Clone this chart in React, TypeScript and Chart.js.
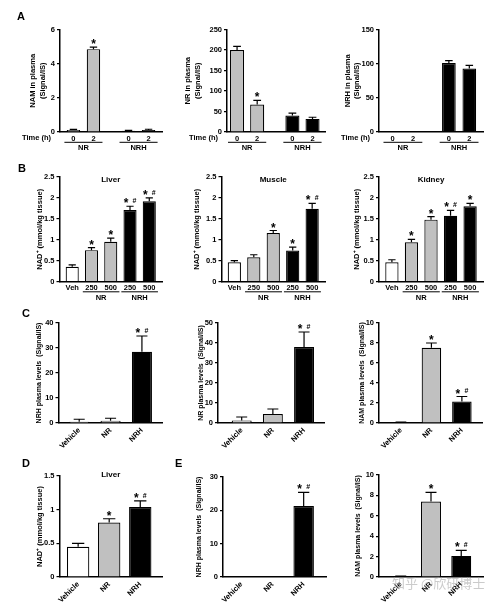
import React, { useEffect, useRef } from "react";
import { Chart, registerables } from "chart.js";
Chart.register(...registerables);

const FONT = "'Liberation Sans', Arial, sans-serif";
const WHITE = "#ffffff";
const GRAY = "#c0c0c0";
const BLACK = "#000000";

// ---------- data ----------
const timeTicks = ["0", "2", "0", "2"];
const doseTicks = ["Veh", "250", "500", "250", "500"];
const treatTicks = ["Vehicle", "NR", "NRH"];
const groupNames = ["NR", "NRH"];

const namPlasmaA = [0.12, 4.85, 0.08, 0.12];
const namPlasmaAErr = [0.03, 0.12, 0.02, 0.04];
const nrPlasmaA = [200, 67, 40, 32];
const nrPlasmaAErr = [9, 10, 6, 4];
const nrhPlasmaA = [0.3, 0.3, 101, 93];
const nrhPlasmaAErr = [0, 0, 3.5, 4.5];

const liverNAD = [0.35, 0.75, 0.95, 1.71, 1.92];
const liverNADErr = [0.05, 0.06, 0.09, 0.09, 0.08];
const muscleNAD = [0.46, 0.58, 1.16, 0.74, 1.74];
const muscleNADErr = [0.04, 0.06, 0.06, 0.08, 0.13];
const kidneyNAD = [0.46, 0.94, 1.48, 1.57, 1.8];
const kidneyNADErr = [0.06, 0.07, 0.07, 0.13, 0.07];

const nrhPlasmaC = [0.5, 0.9, 28.5];
const nrhPlasmaCErr = [1.0, 1.0, 6.3];
const nrPlasmaC = [1.3, 4.5, 38];
const nrPlasmaCErr = [1.7, 2.5, 7.5];
const namPlasmaC = [0.05, 7.53, 2.15];
const namPlasmaCErr = [0.03, 0.47, 0.5];

const liverNADD = [0.45, 0.81, 1.04];
const liverNADDErr = [0.05, 0.055, 0.09];
const nrhPlasmaE = [0.1, 0.1, 21.3];
const nrhPlasmaEErr = [0, 0, 4.1];
const namPlasmaE = [0.05, 7.4, 2.07];
const namPlasmaEErr = [0.03, 0.9, 0.55];

const marksA1 = ["", "*", "", ""];
const marksA2 = ["", "*", "", ""];
const marksA3 = ["", "", "", ""];
const marksLiver = ["", "*", "*", "*#", "*#"];
const marksMuscle = ["", "", "*", "*", "*#"];
const marksKidney = ["", "*", "*", "*#", "*"];
const marksC1 = ["", "", "*#"];
const marksC2 = ["", "", "*#"];
const marksC3 = ["", "*", "*#"];
const marksD = ["", "*", "*#"];
const marksE1 = ["", "", "*#"];
const marksE2 = ["", "*", "*#"];

const colorsTime = [GRAY, GRAY, BLACK, BLACK];
const colorsDose = [WHITE, GRAY, GRAY, BLACK, BLACK];
const colorsTreat = [WHITE, GRAY, BLACK];

const nadTitle = ["NAD\u207A (mmol/kg tissue)"];

// ---------- layout (bar slots along the x axis, in slot units) ----------
const slotsTime = [0, 1, 2.75, 3.75];
const slotsDose = [0, 1, 2, 3, 4];
const slotsTreat = [0, 1, 2];

type Group = { label: string; from: number; to: number };
type Cfg = {
  box: [number, number, number, number];
  plot: [number, number, number, number];
  labels: string[];
  slots: number[];
  margin: [number, number];
  values: number[];
  errors: number[];
  colors: string[];
  marks: string[];
  yMax: number;
  yStep: number;
  yTitle: string[];
  yTitleX: number[];
  yTitleSize: number;
  title?: string;
  titleY?: number;
  groups?: Group[];
  timeLabel?: boolean;
  rotate?: boolean;
  barPct: number;
};

const timeGroups: Group[] = [
  { label: groupNames[0], from: 0, to: 1 },
  { label: groupNames[1], from: 2, to: 3 },
];
const doseGroups: Group[] = [
  { label: groupNames[0], from: 1, to: 2 },
  { label: groupNames[1], from: 3, to: 4 },
];

const COL1: [number, number] = [0, 170];
const COL2: [number, number] = [170, 165];
const COL3: [number, number] = [335, 166];

const panels: Cfg[] = [
  // Row A
  {
    box: [COL1[0], 20, COL1[1], 135], plot: [60, 162, 29.5, 132],
    labels: timeTicks, slots: slotsTime, margin: [0.67, 0.67],
    values: namPlasmaA, errors: namPlasmaAErr, colors: colorsTime, marks: marksA1,
    yMax: 6, yStep: 2, yTitle: ["NAM in plasma", "(Signal/IS)"], yTitleX: [33, 43], yTitleSize: 7.5,
    groups: timeGroups, timeLabel: true, barPct: 0.67,
  },
  {
    box: [COL2[0], 20, COL2[1], 135], plot: [227, 325, 29.5, 132],
    labels: timeTicks, slots: slotsTime, margin: [0.5, 0.62],
    values: nrPlasmaA, errors: nrPlasmaAErr, colors: colorsTime, marks: marksA2,
    yMax: 250, yStep: 50, yTitle: ["NR in plasma", "(Signal/IS)"], yTitleX: [188, 198], yTitleSize: 7.5,
    groups: timeGroups, timeLabel: true, barPct: 0.7,
  },
  {
    box: [COL3[0], 20, COL3[1], 135], plot: [379, 483, 29.5, 132],
    labels: timeTicks, slots: slotsTime, margin: [0.67, 0.67],
    values: nrhPlasmaA, errors: nrhPlasmaAErr, colors: colorsTime, marks: marksA3,
    yMax: 150, yStep: 50, yTitle: ["NRH in plasma", "(Signal/IS)"], yTitleX: [348, 357], yTitleSize: 7.5,
    groups: timeGroups, timeLabel: true, barPct: 0.67,
  },
  // Row B
  {
    box: [COL1[0], 160, COL1[1], 143], plot: [59.5, 162, 177, 281.5],
    labels: doseTicks, slots: slotsDose, margin: [0.66, 0.66],
    values: liverNAD, errors: liverNADErr, colors: colorsDose, marks: marksLiver,
    yMax: 2.5, yStep: 0.5, yTitle: nadTitle, yTitleX: [40], yTitleSize: 7.5, title: "Liver", titleY: 179.5,
    groups: doseGroups, barPct: 0.68,
  },
  {
    box: [COL2[0], 160, COL2[1], 143], plot: [221.5, 325, 177, 281.5],
    labels: doseTicks, slots: slotsDose, margin: [0.66, 0.66],
    values: muscleNAD, errors: muscleNADErr, colors: colorsDose, marks: marksMuscle,
    yMax: 2.5, yStep: 0.5, yTitle: nadTitle, yTitleX: [197], yTitleSize: 7.5, title: "Muscle", titleY: 179.5,
    groups: doseGroups, barPct: 0.68,
  },
  {
    box: [COL3[0], 160, COL3[1], 143], plot: [379, 483, 177, 281.5],
    labels: doseTicks, slots: slotsDose, margin: [0.66, 0.66],
    values: kidneyNAD, errors: kidneyNADErr, colors: colorsDose, marks: marksKidney,
    yMax: 2.5, yStep: 0.5, yTitle: nadTitle, yTitleX: [357], yTitleSize: 7.5, title: "Kidney", titleY: 179.5,
    groups: doseGroups, barPct: 0.68,
  },
  // Row C
  {
    box: [COL1[0], 303, COL1[1], 149], plot: [58.5, 162, 323, 423],
    labels: treatTicks, slots: slotsTreat, margin: [0.66, 0.64],
    values: nrhPlasmaC, errors: nrhPlasmaCErr, colors: colorsTreat, marks: marksC1,
    yMax: 40, yStep: 10, yTitle: ["NRH plasma levels  (Signal/IS)"], yTitleX: [39], yTitleSize: 7,
    rotate: true, barPct: 0.64,
  },
  {
    box: [COL2[0], 303, COL2[1], 149], plot: [218, 324, 323, 423],
    labels: treatTicks, slots: slotsTreat, margin: [0.76, 0.64],
    values: nrPlasmaC, errors: nrPlasmaCErr, colors: colorsTreat, marks: marksC2,
    yMax: 50, yStep: 10, yTitle: ["NR plasma levels  (Signal/IS)"], yTitleX: [201], yTitleSize: 7,
    rotate: true, barPct: 0.64,
  },
  {
    box: [COL3[0], 303, COL3[1], 149], plot: [379, 482, 323, 423],
    labels: treatTicks, slots: slotsTreat, margin: [0.72, 0.66],
    values: namPlasmaC, errors: namPlasmaCErr, colors: colorsTreat, marks: marksC3,
    yMax: 10, yStep: 2, yTitle: ["NAM plasma levels  (Signal/IS)"], yTitleX: [362], yTitleSize: 7,
    rotate: true, barPct: 0.64,
  },
  // Row D / E
  {
    box: [COL1[0], 452, COL1[1], 154], plot: [59.5, 162, 476, 577],
    labels: treatTicks, slots: slotsTreat, margin: [0.6, 0.7],
    values: liverNADD, errors: liverNADDErr, colors: colorsTreat, marks: marksD,
    yMax: 1.5, yStep: 0.5, yTitle: nadTitle, yTitleX: [40], yTitleSize: 7.5, title: "Liver", titleY: 474.5,
    rotate: true, barPct: 0.72,
  },
  {
    box: [COL2[0], 452, COL2[1], 154], plot: [223, 326, 477, 577],
    labels: treatTicks, slots: slotsTreat, margin: [0.6, 0.72],
    values: nrhPlasmaE, errors: nrhPlasmaEErr, colors: colorsTreat, marks: marksE1,
    yMax: 30, yStep: 10, yTitle: ["NRH plasma levels  (Signal/IS)"], yTitleX: [199], yTitleSize: 7,
    rotate: true, barPct: 0.66,
  },
  {
    box: [COL3[0], 452, COL3[1], 154], plot: [379, 483, 475, 577],
    labels: treatTicks, slots: slotsTreat, margin: [0.72, 0.72],
    values: namPlasmaE, errors: namPlasmaEErr, colors: colorsTreat, marks: marksE2,
    yMax: 10, yStep: 2, yTitle: ["NAM plasma levels  (Signal/IS)"], yTitleX: [358], yTitleSize: 7,
    rotate: true, barPct: 0.66,
  },
];

function extrasPlugin(cfg: Cfg) {
  return {
    id: "extras",
    afterDatasetsDraw(chart: any) {
      const ctx = chart.ctx;
      const meta = chart.getDatasetMeta(0);
      const ys = chart.scales.y;
      const xsc = chart.scales.x;
      const area = chart.chartArea;
      const [bl, bt] = cfg.box;
      ctx.save();
      ctx.strokeStyle = "#000";
      ctx.fillStyle = "#000";
      ctx.lineWidth = 1.2;
      const xs: number[] = [];
      meta.data.forEach((el: any, i: number) => {
        const p = el.getProps(["x", "y", "width"], true);
        xs[i] = p.x;
        const v = cfg.values[i];
        if (v == null) return;
        const e = cfg.errors[i] || 0;
        let top = p.y;
        if (e > 0) {
          const ty = ys.getPixelForValue(v + e);
          const cw = p.width * 0.55;
          ctx.beginPath();
          ctx.moveTo(p.x, p.y);
          ctx.lineTo(p.x, ty);
          ctx.moveTo(p.x - cw / 2, ty);
          ctx.lineTo(p.x + cw / 2, ty);
          ctx.stroke();
          top = ty;
        }
        const m = cfg.marks[i];
        if (m) {
          ctx.textAlign = "center";
          ctx.textBaseline = "alphabetic";
          ctx.font = `bold 12px ${FONT}`;
          if (m === "*#") {
            ctx.fillText("*", p.x - 4, top + 1);
            ctx.font = `bold 7px ${FONT}`;
            ctx.fillText("#", p.x + 4.5, top - 3.4);
          } else {
            ctx.fillText("*", p.x, top + 1);
          }
        }
      });
      const unit = xsc.getPixelForValue(1) - xsc.getPixelForValue(0);
      if (cfg.groups) {
        ctx.lineWidth = 1;
        ctx.font = `bold 7.5px ${FONT}`;
        ctx.textAlign = "center";
        ctx.textBaseline = "middle";
        cfg.groups.forEach((g) => {
          const x0 = xs[g.from] - unit * 0.45;
          const x1 = xs[g.to] + unit * 0.45;
          const ly = area.bottom + 10.3;
          ctx.beginPath();
          ctx.moveTo(x0, ly);
          ctx.lineTo(x1, ly);
          ctx.stroke();
          ctx.fillText(g.label, (x0 + x1) / 2, area.bottom + 16);
        });
      }
      if (cfg.timeLabel) {
        ctx.font = `bold 7.5px ${FONT}`;
        ctx.textAlign = "right";
        ctx.textBaseline = "middle";
        ctx.fillText("Time (h)", area.left - 9, area.bottom + 5.8);
      }
      if (cfg.title) {
        ctx.font = `bold 8px ${FONT}`;
        ctx.textAlign = "center";
        ctx.textBaseline = "middle";
        ctx.fillText(cfg.title, (area.left + area.right) / 2, (cfg.titleY as number) - bt);
      }
      // y-axis titles
      ctx.font = `bold ${cfg.yTitleSize}px ${FONT}`;
      ctx.textAlign = "center";
      ctx.textBaseline = "middle";
      const cy = (area.top + area.bottom) / 2;
      cfg.yTitle.forEach((t, i) => {
        ctx.save();
        ctx.translate(cfg.yTitleX[i] - bl, cy);
        ctx.rotate(-Math.PI / 2);
        ctx.fillText(t, 0, 0);
        ctx.restore();
      });
      ctx.restore();
    },
  };
}

function Panel({ cfg }: { cfg: Cfg }) {
  const ref = useRef<HTMLCanvasElement | null>(null);
  useEffect(() => {
    if (!ref.current) return;
    const [bl, bt, bw, bh] = cfg.box;
    const [x0, x1, yTop, yZero] = cfg.plot;
    const last = cfg.slots[cfg.slots.length - 1];
    const chart = new Chart(ref.current, {
      type: "bar",
      data: {
        datasets: [
          {
            data: cfg.values.map((v, i) => ({ x: cfg.slots[i], y: v })) as any,
            backgroundColor: cfg.colors,
            borderColor: "#000",
            borderWidth: 1.2,
            barPercentage: cfg.barPct,
            categoryPercentage: 1,
          },
        ],
      },
      options: {
        animation: false,
        responsive: false,
        maintainAspectRatio: false,
        events: [],
        layout: {
          padding: { left: 0, top: yTop - bt, right: bl + bw - x1, bottom: 0 },
        },
        plugins: { legend: { display: false }, tooltip: { enabled: false } },
        scales: {
          x: {
            type: "linear",
            min: -cfg.margin[0],
            max: last + cfg.margin[1],
            offset: false,
            grid: { display: false, drawTicks: false },
            border: { color: "#000", width: 1.5 },
            afterBuildTicks: (s: any) => {
              s.ticks = cfg.slots.map((v) => ({ value: v }));
            },
            ticks: {
              autoSkip: false,
              color: "#000",
              font: { family: FONT, weight: "bold", size: 7.5 },
              padding: cfg.rotate ? 3 : 2,
              minRotation: cfg.rotate ? 45 : 0,
              maxRotation: cfg.rotate ? 45 : 0,
              callback: (_v: any, i: number) => cfg.labels[i],
            },
            afterFit: (s: any) => {
              s.height = bt + bh - yZero;
            },
          },
          y: {
            min: 0,
            max: cfg.yMax,
            grid: { drawOnChartArea: false, drawTicks: true, tickLength: 3, color: "#000", lineWidth: 1.2 },
            border: { color: "#000", width: 1.5 },
            ticks: {
              stepSize: cfg.yStep,
              color: "#000",
              padding: 2,
              font: { family: FONT, weight: "bold", size: 7.5 },
              callback: (v: any) => String(Math.round(Number(v) * 100) / 100),
            },
            afterFit: (s: any) => {
              s.width = x0 - bl;
            },
          },
        },
      } as any,
      plugins: [extrasPlugin(cfg)],
    });
    return () => chart.destroy();
  }, [cfg]);
  const [bl, bt, bw, bh] = cfg.box;
  return (
    <canvas
      ref={ref}
      width={bw}
      height={bh}
      style={{ position: "absolute", left: bl, top: bt, width: bw, height: bh }}
    />
  );
}

const letters: [string, number, number][] = [
  ["A", 17, 12],
  ["B", 18, 164],
  ["C", 22, 309],
  ["D", 22, 459],
  ["E", 175, 459],
];

export default function App() {
  return (
    <div
      style={{
        position: "absolute",
        left: 0,
        top: 0,
        width: 501,
        height: 606,
        background: "#fff",
        overflow: "hidden",
      }}
    >
      {panels.map((p, i) => (
        <Panel key={i} cfg={p} />
      ))}
      {letters.map(([t, x, y]) => (
        <div
          key={t}
          style={{
            position: "absolute",
            left: x,
            top: y - 1.5,
            fontFamily: FONT,
            fontWeight: "bold",
            fontSize: 11,
            lineHeight: "11px",
            color: "#000",
          }}
        >
          {t}
        </div>
      ))}
      <div
        style={{
          position: "absolute",
          left: 392,
          top: 575,
          fontFamily: "'Noto Sans CJK SC', sans-serif",
          fontSize: 13,
          lineHeight: "16px",
          color: "rgba(160,160,160,0.55)",
          whiteSpace: "nowrap",
        }}
      >
        知乎 @欣研博士
      </div>
    </div>
  );
}
